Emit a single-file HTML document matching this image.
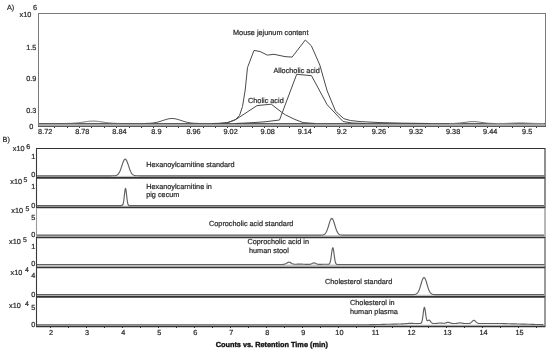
<!DOCTYPE html>
<html><head><meta charset="utf-8"><style>
html,body{margin:0;padding:0;background:#fff;width:550px;height:351px;overflow:hidden}
svg{display:block;font-family:"Liberation Sans",Arial,sans-serif}
text{text-rendering:geometricPrecision}
</style></head><body>
<svg width="550" height="351" viewBox="0 0 550 351">
<rect width="550" height="351" fill="#fff"/>
<text x="7.0" y="9.8" font-size="7.3" text-anchor="start" font-weight="normal" fill="#2a2a2a" stroke="#2a2a2a" stroke-width="0.22">A)</text>
<text x="19.5" y="17.0" font-size="7.3" text-anchor="start" font-weight="normal" fill="#2a2a2a" stroke="#2a2a2a" stroke-width="0.22">x10</text>
<text x="33.1" y="10.0" font-size="7.3" text-anchor="start" font-weight="normal" fill="#2a2a2a" stroke="#2a2a2a" stroke-width="0.22">6</text>
<text x="36.3" y="50.0" font-size="7.3" text-anchor="end" font-weight="normal" fill="#2a2a2a" stroke="#2a2a2a" stroke-width="0.22">1.5</text>
<text x="36.3" y="81.0" font-size="7.3" text-anchor="end" font-weight="normal" fill="#2a2a2a" stroke="#2a2a2a" stroke-width="0.22">0.9</text>
<text x="36.3" y="112.8" font-size="7.3" text-anchor="end" font-weight="normal" fill="#2a2a2a" stroke="#2a2a2a" stroke-width="0.22">0.3</text>
<text x="33.3" y="129.0" font-size="7.3" text-anchor="end" font-weight="normal" fill="#2a2a2a" stroke="#2a2a2a" stroke-width="0.22">0</text>
<text x="45.2" y="134.4" font-size="7.3" text-anchor="middle" font-weight="normal" fill="#2a2a2a" stroke="#2a2a2a" stroke-width="0.22">8.72</text>
<text x="82.3" y="134.4" font-size="7.3" text-anchor="middle" font-weight="normal" fill="#2a2a2a" stroke="#2a2a2a" stroke-width="0.22">8.78</text>
<text x="119.4" y="134.4" font-size="7.3" text-anchor="middle" font-weight="normal" fill="#2a2a2a" stroke="#2a2a2a" stroke-width="0.22">8.84</text>
<text x="156.4" y="134.4" font-size="7.3" text-anchor="middle" font-weight="normal" fill="#2a2a2a" stroke="#2a2a2a" stroke-width="0.22">8.9</text>
<text x="193.5" y="134.4" font-size="7.3" text-anchor="middle" font-weight="normal" fill="#2a2a2a" stroke="#2a2a2a" stroke-width="0.22">8.96</text>
<text x="230.6" y="134.4" font-size="7.3" text-anchor="middle" font-weight="normal" fill="#2a2a2a" stroke="#2a2a2a" stroke-width="0.22">9.02</text>
<text x="267.7" y="134.4" font-size="7.3" text-anchor="middle" font-weight="normal" fill="#2a2a2a" stroke="#2a2a2a" stroke-width="0.22">9.08</text>
<text x="304.8" y="134.4" font-size="7.3" text-anchor="middle" font-weight="normal" fill="#2a2a2a" stroke="#2a2a2a" stroke-width="0.22">9.14</text>
<text x="341.8" y="134.4" font-size="7.3" text-anchor="middle" font-weight="normal" fill="#2a2a2a" stroke="#2a2a2a" stroke-width="0.22">9.2</text>
<text x="378.9" y="134.4" font-size="7.3" text-anchor="middle" font-weight="normal" fill="#2a2a2a" stroke="#2a2a2a" stroke-width="0.22">9.26</text>
<text x="416.0" y="134.4" font-size="7.3" text-anchor="middle" font-weight="normal" fill="#2a2a2a" stroke="#2a2a2a" stroke-width="0.22">9.32</text>
<text x="453.1" y="134.4" font-size="7.3" text-anchor="middle" font-weight="normal" fill="#2a2a2a" stroke="#2a2a2a" stroke-width="0.22">9.38</text>
<text x="490.2" y="134.4" font-size="7.3" text-anchor="middle" font-weight="normal" fill="#2a2a2a" stroke="#2a2a2a" stroke-width="0.22">9.44</text>
<text x="527.2" y="134.4" font-size="7.3" text-anchor="middle" font-weight="normal" fill="#2a2a2a" stroke="#2a2a2a" stroke-width="0.22">9.5</text>
<line x1="54.5" y1="126.5" x2="54.5" y2="128.0" stroke="#333" stroke-width="1"/>
<line x1="67.5" y1="126.5" x2="67.5" y2="128.0" stroke="#333" stroke-width="1"/>
<line x1="79.5" y1="126.5" x2="79.5" y2="128.0" stroke="#333" stroke-width="1"/>
<line x1="91.5" y1="126.5" x2="91.5" y2="128.0" stroke="#333" stroke-width="1"/>
<line x1="104.5" y1="126.5" x2="104.5" y2="128.0" stroke="#333" stroke-width="1"/>
<line x1="116.5" y1="126.5" x2="116.5" y2="128.0" stroke="#333" stroke-width="1"/>
<line x1="129.5" y1="126.5" x2="129.5" y2="128.0" stroke="#333" stroke-width="1"/>
<line x1="141.5" y1="126.5" x2="141.5" y2="128.0" stroke="#333" stroke-width="1"/>
<line x1="153.5" y1="126.5" x2="153.5" y2="128.0" stroke="#333" stroke-width="1"/>
<line x1="166.5" y1="126.5" x2="166.5" y2="128.0" stroke="#333" stroke-width="1"/>
<line x1="178.5" y1="126.5" x2="178.5" y2="128.0" stroke="#333" stroke-width="1"/>
<line x1="190.5" y1="126.5" x2="190.5" y2="128.0" stroke="#333" stroke-width="1"/>
<line x1="203.5" y1="126.5" x2="203.5" y2="128.0" stroke="#333" stroke-width="1"/>
<line x1="215.5" y1="126.5" x2="215.5" y2="128.0" stroke="#333" stroke-width="1"/>
<line x1="227.5" y1="126.5" x2="227.5" y2="128.0" stroke="#333" stroke-width="1"/>
<line x1="240.5" y1="126.5" x2="240.5" y2="128.0" stroke="#333" stroke-width="1"/>
<line x1="252.5" y1="126.5" x2="252.5" y2="128.0" stroke="#333" stroke-width="1"/>
<line x1="264.5" y1="126.5" x2="264.5" y2="128.0" stroke="#333" stroke-width="1"/>
<line x1="277.5" y1="126.5" x2="277.5" y2="128.0" stroke="#333" stroke-width="1"/>
<line x1="289.5" y1="126.5" x2="289.5" y2="128.0" stroke="#333" stroke-width="1"/>
<line x1="302.5" y1="126.5" x2="302.5" y2="128.0" stroke="#333" stroke-width="1"/>
<line x1="314.5" y1="126.5" x2="314.5" y2="128.0" stroke="#333" stroke-width="1"/>
<line x1="326.5" y1="126.5" x2="326.5" y2="128.0" stroke="#333" stroke-width="1"/>
<line x1="339.5" y1="126.5" x2="339.5" y2="128.0" stroke="#333" stroke-width="1"/>
<line x1="351.5" y1="126.5" x2="351.5" y2="128.0" stroke="#333" stroke-width="1"/>
<line x1="363.5" y1="126.5" x2="363.5" y2="128.0" stroke="#333" stroke-width="1"/>
<line x1="376.5" y1="126.5" x2="376.5" y2="128.0" stroke="#333" stroke-width="1"/>
<line x1="388.5" y1="126.5" x2="388.5" y2="128.0" stroke="#333" stroke-width="1"/>
<line x1="400.5" y1="126.5" x2="400.5" y2="128.0" stroke="#333" stroke-width="1"/>
<line x1="413.5" y1="126.5" x2="413.5" y2="128.0" stroke="#333" stroke-width="1"/>
<line x1="425.5" y1="126.5" x2="425.5" y2="128.0" stroke="#333" stroke-width="1"/>
<line x1="438.5" y1="126.5" x2="438.5" y2="128.0" stroke="#333" stroke-width="1"/>
<line x1="450.5" y1="126.5" x2="450.5" y2="128.0" stroke="#333" stroke-width="1"/>
<line x1="462.5" y1="126.5" x2="462.5" y2="128.0" stroke="#333" stroke-width="1"/>
<line x1="475.5" y1="126.5" x2="475.5" y2="128.0" stroke="#333" stroke-width="1"/>
<line x1="487.5" y1="126.5" x2="487.5" y2="128.0" stroke="#333" stroke-width="1"/>
<line x1="499.5" y1="126.5" x2="499.5" y2="128.0" stroke="#333" stroke-width="1"/>
<line x1="512.5" y1="126.5" x2="512.5" y2="128.0" stroke="#333" stroke-width="1"/>
<line x1="524.5" y1="126.5" x2="524.5" y2="128.0" stroke="#333" stroke-width="1"/>
<line x1="536.5" y1="126.5" x2="536.5" y2="128.0" stroke="#333" stroke-width="1"/>
<rect x="38.5" y="123.5" width="507.0" height="2.6" fill="#a8a8a8"/>
<line x1="38.5" y1="123.5" x2="545.5" y2="123.5" stroke="#5c5c5c" stroke-width="1"/>
<polyline points="64.50,123.47 65.50,123.46 66.50,123.45 67.50,123.43 68.50,123.41 69.50,123.39 70.50,123.35 71.50,123.31 72.50,123.27 73.50,123.21 74.50,123.14 75.50,123.06 76.50,122.97 77.50,122.87 78.50,122.75 79.50,122.63 80.50,122.49 81.50,122.35 82.50,122.20 83.50,122.04 84.50,121.89 85.50,121.74 86.50,121.60 87.50,121.47 88.50,121.35 89.50,121.26 90.50,121.18 91.50,121.13 92.50,121.10 93.50,121.10 94.50,121.13 95.50,121.18 96.50,121.26 97.50,121.35 98.50,121.47 99.50,121.60 100.50,121.74 101.50,121.89 102.50,122.04 103.50,122.20 104.50,122.35 105.50,122.49 106.50,122.63 107.50,122.75 108.50,122.87 109.50,122.97 110.50,123.06 111.50,123.14 112.50,123.21 113.50,123.27 114.50,123.31 115.50,123.35 116.50,123.39 117.50,123.41 118.50,123.43 119.50,123.45 120.50,123.46 121.50,123.47" fill="none" stroke="#666" stroke-width="1" stroke-linejoin="round"/>
<polyline points="145.00,123.44 146.00,123.42 147.00,123.39 148.00,123.36 149.00,123.31 150.00,123.25 151.00,123.17 152.00,123.08 153.00,122.96 154.00,122.82 155.00,122.66 156.00,122.47 157.00,122.25 158.00,122.01 159.00,121.74 160.00,121.44 161.00,121.13 162.00,120.80 163.00,120.47 164.00,120.13 165.00,119.81 166.00,119.50 167.00,119.22 168.00,118.97 169.00,118.77 170.00,118.62 171.00,118.53 172.00,118.50 173.00,118.53 174.00,118.62 175.00,118.77 176.00,118.97 177.00,119.22 178.00,119.50 179.00,119.81 180.00,120.13 181.00,120.47 182.00,120.80 183.00,121.13 184.00,121.44 185.00,121.74 186.00,122.01 187.00,122.25 188.00,122.47 189.00,122.66 190.00,122.82 191.00,122.96 192.00,123.08 193.00,123.17 194.00,123.25 195.00,123.31 196.00,123.36 197.00,123.39 198.00,123.42 199.00,123.44" fill="none" stroke="#555" stroke-width="1" stroke-linejoin="round"/>
<polyline points="449.00,123.48 450.00,123.47 451.00,123.46 452.00,123.44 453.00,123.42 454.00,123.39 455.00,123.35 456.00,123.30 457.00,123.24 458.00,123.17 459.00,123.09 460.00,122.99 461.00,122.88 462.00,122.76 463.00,122.63 464.00,122.49 465.00,122.35 466.00,122.20 467.00,122.07 468.00,121.94 469.00,121.82 470.00,121.73 471.00,121.66 472.00,121.61 473.00,121.60 474.00,121.61 475.00,121.66 476.00,121.73 477.00,121.82 478.00,121.94 479.00,122.07 480.00,122.20 481.00,122.35 482.00,122.49 483.00,122.63 484.00,122.76 485.00,122.88 486.00,122.99 487.00,123.09 488.00,123.17 489.00,123.24 490.00,123.30 491.00,123.35 492.00,123.39 493.00,123.42 494.00,123.44 495.00,123.46 496.00,123.47 497.00,123.48" fill="none" stroke="#777" stroke-width="1" stroke-linejoin="round"/>
<polyline points="496.00,123.49 497.00,123.49 498.00,123.49 499.00,123.48 500.00,123.47 501.00,123.46 502.00,123.45 503.00,123.44 504.00,123.42 505.00,123.40 506.00,123.37 507.00,123.34 508.00,123.31 509.00,123.27 510.00,123.23 511.00,123.18 512.00,123.14 513.00,123.09 514.00,123.05 515.00,123.01 516.00,122.97 517.00,122.94 518.00,122.92 519.00,122.90 520.00,122.90 521.00,122.90 522.00,122.92 523.00,122.94 524.00,122.97 525.00,123.01 526.00,123.05 527.00,123.09 528.00,123.14 529.00,123.18 530.00,123.23 531.00,123.27 532.00,123.31 533.00,123.34 534.00,123.37 535.00,123.40 536.00,123.42 537.00,123.44 538.00,123.45 539.00,123.46 540.00,123.47 541.00,123.48 542.00,123.49 543.00,123.49 544.00,123.49" fill="none" stroke="#888" stroke-width="1" stroke-linejoin="round"/>
<polyline points="212.00,123.50 219.10,123.30 228.00,122.50 235.00,120.00 239.50,115.50 242.50,106.50 245.20,90.00 247.50,67.50 254.00,50.40 255.00,50.60 260.00,51.50 267.30,55.10 274.00,54.30 285.00,56.60 292.10,57.10 305.30,40.00 311.30,45.70 315.00,54.00 319.80,65.00 327.20,91.00 335.60,111.30 343.90,118.70 350.40,120.50 360.00,121.60 380.00,122.60 400.00,123.10 430.00,123.50" fill="none" stroke="#4a4a4a" stroke-width="1" stroke-linejoin="round"/>
<polyline points="220.00,123.50 226.60,123.00 236.00,119.40 257.00,105.60 271.30,104.20 281.30,112.00 285.60,115.00 295.00,119.50 303.10,122.60 315.00,123.50" fill="none" stroke="#4a4a4a" stroke-width="1" stroke-linejoin="round"/>
<polyline points="235.00,123.50 250.00,122.80 265.00,121.80 279.50,120.00 296.70,74.30 311.50,75.70 327.20,104.80 343.00,121.50 352.00,123.00 365.00,123.50" fill="none" stroke="#4a4a4a" stroke-width="1" stroke-linejoin="round"/>
<rect x="38.5" y="13.5" width="507.0" height="113.0" fill="none" stroke="#7a7a7a" stroke-width="1"/>
<line x1="38.0" y1="126.5" x2="546.0" y2="126.5" stroke="#5a5a5a" stroke-width="1"/>
<text x="233.0" y="35.0" font-size="7.3" text-anchor="start" font-weight="normal" fill="#2a2a2a" stroke="#2a2a2a" stroke-width="0.22">Mouse jejunum content</text>
<text x="273.5" y="72.7" font-size="7.3" text-anchor="start" font-weight="normal" fill="#2a2a2a" stroke="#2a2a2a" stroke-width="0.22">Allocholic acid</text>
<text x="248.0" y="102.8" font-size="7.3" text-anchor="start" font-weight="normal" fill="#2a2a2a" stroke="#2a2a2a" stroke-width="0.22">Cholic acid</text>
<text x="2.6" y="142.0" font-size="7.3" text-anchor="start" font-weight="normal" fill="#2a2a2a" stroke="#2a2a2a" stroke-width="0.22">B)</text>
<rect x="36.5" y="175.80" width="508.0" height="1.20" fill="#c4c4c4"/>
<polyline points="36.50,175.80 38.50,175.80 40.50,175.80 42.50,175.80 44.50,175.80 46.50,175.80 48.50,175.80 50.50,175.80 52.50,175.80 54.50,175.80 56.50,175.80 58.50,175.80 60.50,175.80 62.50,175.80 64.50,175.80 66.50,175.80 68.50,175.80 70.50,175.80 72.50,175.80 74.50,175.80 76.50,175.80 78.50,175.80 80.50,175.80 82.50,175.80 84.50,175.80 86.50,175.80 88.50,175.80 90.50,175.80 92.50,175.80 94.50,175.80 96.50,175.80 98.50,175.80 100.50,175.80 102.50,175.80 104.50,175.80 106.50,175.80 108.50,175.80 110.50,175.80 112.50,175.79 113.00,175.78 113.50,175.77 114.00,175.75 114.50,175.71 115.00,175.66 115.50,175.58 116.00,175.46 116.50,175.28 117.00,175.04 117.50,174.70 118.00,174.25 118.50,173.67 119.00,172.94 119.50,172.04 120.00,170.97 120.50,169.74 121.00,168.37 121.50,166.89 122.00,165.36 122.50,163.85 123.00,162.43 123.50,161.18 124.00,160.17 124.50,159.47 125.00,159.13 125.50,159.17 126.00,159.58 126.50,160.35 127.00,161.41 127.50,162.70 128.00,164.15 128.50,165.67 129.00,167.19 129.50,168.65 130.00,170.00 130.50,171.20 131.00,172.24 131.50,173.10 132.00,173.80 132.50,174.35 133.00,174.78 133.50,175.09 134.00,175.32 134.50,175.49 135.00,175.60 135.50,175.67 136.00,175.72 136.50,175.75 137.00,175.77 137.50,175.78 138.00,175.79 138.50,175.80 140.50,175.80 142.50,175.80 144.50,175.80 146.50,175.80 148.50,175.80 150.50,175.80 152.50,175.80 154.50,175.80 156.50,175.80 158.50,175.80 160.50,175.80 162.50,175.80 164.50,175.80 166.50,175.80 168.50,175.80 170.50,175.80 172.50,175.80 174.50,175.80 176.50,175.80 178.50,175.80 180.50,175.80 182.50,175.80 184.50,175.80 186.50,175.80 188.50,175.80 190.50,175.80 192.50,175.80 194.50,175.80 196.50,175.80 198.50,175.80 200.50,175.80 202.50,175.80 204.50,175.80 206.50,175.80 208.50,175.80 210.50,175.80 212.50,175.80 214.50,175.80 216.50,175.80 218.50,175.80 220.50,175.80 222.50,175.80 224.50,175.80 226.50,175.80 228.50,175.80 230.50,175.80 232.50,175.80 234.50,175.80 236.50,175.80 238.50,175.80 240.50,175.80 242.50,175.80 244.50,175.80 246.50,175.80 248.50,175.80 250.50,175.80 252.50,175.80 254.50,175.80 256.50,175.80 258.50,175.80 260.50,175.80 262.50,175.80 264.50,175.80 266.50,175.80 268.50,175.80 270.50,175.80 272.50,175.80 274.50,175.80 276.50,175.80 278.50,175.80 280.50,175.80 282.50,175.80 284.50,175.80 286.50,175.80 288.50,175.80 290.50,175.80 292.50,175.80 294.50,175.80 296.50,175.80 298.50,175.80 300.50,175.80 302.50,175.80 304.50,175.80 306.50,175.80 308.50,175.80 310.50,175.80 312.50,175.80 314.50,175.80 316.50,175.80 318.50,175.80 320.50,175.80 322.50,175.80 324.50,175.80 326.50,175.80 328.50,175.80 330.50,175.80 332.50,175.80 334.50,175.80 336.50,175.80 338.50,175.80 340.50,175.80 342.50,175.80 344.50,175.80 346.50,175.80 348.50,175.80 350.50,175.80 352.50,175.80 354.50,175.80 356.50,175.80 358.50,175.80 360.50,175.80 362.50,175.80 364.50,175.80 366.50,175.80 368.50,175.80 370.50,175.80 372.50,175.80 374.50,175.80 376.50,175.80 378.50,175.80 380.50,175.80 382.50,175.80 384.50,175.80 386.50,175.80 388.50,175.80 390.50,175.80 392.50,175.80 394.50,175.80 396.50,175.80 398.50,175.80 400.50,175.80 402.50,175.80 404.50,175.80 406.50,175.80 408.50,175.80 410.50,175.80 412.50,175.80 414.50,175.80 416.50,175.80 418.50,175.80 420.50,175.80 422.50,175.80 424.50,175.80 426.50,175.80 428.50,175.80 430.50,175.80 432.50,175.80 434.50,175.80 436.50,175.80 438.50,175.80 440.50,175.80 442.50,175.80 444.50,175.80 446.50,175.80 448.50,175.80 450.50,175.80 452.50,175.80 454.50,175.80 456.50,175.80 458.50,175.80 460.50,175.80 462.50,175.80 464.50,175.80 466.50,175.80 468.50,175.80 470.50,175.80 472.50,175.80 474.50,175.80 476.50,175.80 478.50,175.80 480.50,175.80 482.50,175.80 484.50,175.80 486.50,175.80 488.50,175.80 490.50,175.80 492.50,175.80 494.50,175.80 496.50,175.80 498.50,175.80 500.50,175.80 502.50,175.80 504.50,175.80 506.50,175.80 508.50,175.80 510.50,175.80 512.50,175.80 514.50,175.80 516.50,175.80 518.50,175.80 520.50,175.80 522.50,175.80 524.50,175.80 526.50,175.80 528.50,175.80 530.50,175.80 532.50,175.80 534.50,175.80 536.50,175.80 538.50,175.80 540.50,175.80 542.50,175.80 544.50,175.80" fill="none" stroke="#606060" stroke-width="1.15" stroke-linejoin="round"/>
<text x="12.8" y="151.0" font-size="7.3" text-anchor="start" font-weight="normal" fill="#2a2a2a" stroke="#2a2a2a" stroke-width="0.22">x10</text>
<text x="26.2" y="148.7" font-size="6.9" text-anchor="start" font-weight="normal" fill="#2a2a2a" stroke="#2a2a2a" stroke-width="0.22">6</text>
<text x="35.3" y="159.2" font-size="7.3" text-anchor="end" font-weight="normal" fill="#2a2a2a" stroke="#2a2a2a" stroke-width="0.22">1</text>
<text x="35.3" y="177.4" font-size="7.3" text-anchor="end" font-weight="normal" fill="#2a2a2a" stroke="#2a2a2a" stroke-width="0.22">0</text>
<text x="146.2" y="166.8" font-size="7.3" text-anchor="start" font-weight="normal" fill="#2a2a2a" stroke="#2a2a2a" stroke-width="0.22">Hexanoylcarnitine standard</text>
<rect x="36.5" y="205.60" width="508.0" height="1.20" fill="#c4c4c4"/>
<polyline points="36.50,205.60 38.50,205.60 40.50,205.60 42.50,205.60 44.50,205.60 46.50,205.60 48.50,205.60 50.50,205.60 52.50,205.60 54.50,205.60 56.50,205.60 58.50,205.60 60.50,205.60 62.50,205.60 64.50,205.60 66.50,205.60 68.50,205.60 70.50,205.60 72.50,205.60 74.50,205.60 76.50,205.60 78.50,205.60 80.50,205.60 82.50,205.60 84.50,205.60 86.50,205.60 88.50,205.60 90.50,205.60 92.50,205.60 94.50,205.60 96.50,205.60 98.50,205.60 100.50,205.60 102.50,205.60 104.50,205.60 106.50,205.60 108.50,205.60 110.50,205.60 112.50,205.60 114.50,205.60 116.50,205.60 118.50,205.60 120.50,205.60 122.50,205.18 123.00,204.29 123.50,202.29 124.00,198.77 124.50,194.16 125.00,190.00 125.50,188.30 126.00,190.00 126.50,194.16 127.00,198.77 127.50,202.29 128.00,204.29 128.50,205.18 129.00,205.49 129.50,205.58 130.00,205.60 132.00,205.60 134.00,205.60 136.00,205.60 138.00,205.60 140.00,205.60 142.00,205.60 144.00,205.60 146.00,205.60 148.00,205.60 150.00,205.60 152.00,205.60 154.00,205.60 156.00,205.60 158.00,205.60 160.00,205.60 162.00,205.60 164.00,205.60 166.00,205.60 168.00,205.60 170.00,205.60 172.00,205.60 174.00,205.60 176.00,205.60 178.00,205.60 180.00,205.60 182.00,205.60 184.00,205.60 186.00,205.60 188.00,205.60 190.00,205.60 192.00,205.60 194.00,205.60 196.00,205.60 198.00,205.60 200.00,205.60 202.00,205.60 204.00,205.60 206.00,205.60 208.00,205.60 210.00,205.60 212.00,205.60 214.00,205.60 216.00,205.60 218.00,205.60 220.00,205.60 222.00,205.60 224.00,205.60 226.00,205.60 228.00,205.60 230.00,205.60 232.00,205.60 234.00,205.60 236.00,205.60 238.00,205.60 240.00,205.60 242.00,205.60 244.00,205.60 246.00,205.60 248.00,205.60 250.00,205.60 252.00,205.60 254.00,205.60 256.00,205.60 258.00,205.60 260.00,205.60 262.00,205.60 264.00,205.60 266.00,205.60 268.00,205.60 270.00,205.60 272.00,205.60 274.00,205.60 276.00,205.60 278.00,205.60 280.00,205.60 282.00,205.60 284.00,205.60 286.00,205.60 288.00,205.60 290.00,205.60 292.00,205.60 294.00,205.60 296.00,205.60 298.00,205.60 300.00,205.60 302.00,205.60 304.00,205.60 306.00,205.60 308.00,205.60 310.00,205.60 312.00,205.60 314.00,205.60 316.00,205.60 318.00,205.60 320.00,205.60 322.00,205.60 324.00,205.60 326.00,205.60 328.00,205.60 330.00,205.60 332.00,205.60 334.00,205.60 336.00,205.60 338.00,205.60 340.00,205.60 342.00,205.60 344.00,205.60 346.00,205.60 348.00,205.60 350.00,205.60 352.00,205.60 354.00,205.60 356.00,205.60 358.00,205.60 360.00,205.60 362.00,205.60 364.00,205.60 366.00,205.60 368.00,205.60 370.00,205.60 372.00,205.60 374.00,205.60 376.00,205.60 378.00,205.60 380.00,205.60 382.00,205.60 384.00,205.60 386.00,205.60 388.00,205.60 390.00,205.60 392.00,205.60 394.00,205.60 396.00,205.60 398.00,205.60 400.00,205.60 402.00,205.60 404.00,205.60 406.00,205.60 408.00,205.60 410.00,205.60 412.00,205.60 414.00,205.60 416.00,205.60 418.00,205.60 420.00,205.60 422.00,205.60 424.00,205.60 426.00,205.60 428.00,205.60 430.00,205.60 432.00,205.60 434.00,205.60 436.00,205.60 438.00,205.60 440.00,205.60 442.00,205.60 444.00,205.60 446.00,205.60 448.00,205.60 450.00,205.60 452.00,205.60 454.00,205.60 456.00,205.60 458.00,205.60 460.00,205.60 462.00,205.60 464.00,205.60 466.00,205.60 468.00,205.60 470.00,205.60 472.00,205.60 474.00,205.60 476.00,205.60 478.00,205.60 480.00,205.60 482.00,205.60 484.00,205.60 486.00,205.60 488.00,205.60 490.00,205.60 492.00,205.60 494.00,205.60 496.00,205.60 498.00,205.60 500.00,205.60 502.00,205.60 504.00,205.60 506.00,205.60 508.00,205.60 510.00,205.60 512.00,205.60 514.00,205.60 516.00,205.60 518.00,205.60 520.00,205.60 522.00,205.60 524.00,205.60 526.00,205.60 528.00,205.60 530.00,205.60 532.00,205.60 534.00,205.60 536.00,205.60 538.00,205.60 540.00,205.60 542.00,205.60 544.00,205.60" fill="none" stroke="#606060" stroke-width="1.15" stroke-linejoin="round"/>
<text x="10.3" y="183.6" font-size="7.3" text-anchor="start" font-weight="normal" fill="#2a2a2a" stroke="#2a2a2a" stroke-width="0.22">x10</text>
<text x="23.6" y="181.7" font-size="6.9" text-anchor="start" font-weight="normal" fill="#2a2a2a" stroke="#2a2a2a" stroke-width="0.22">5</text>
<text x="35.3" y="189.4" font-size="7.3" text-anchor="end" font-weight="normal" fill="#2a2a2a" stroke="#2a2a2a" stroke-width="0.22">1</text>
<text x="35.3" y="207.6" font-size="7.3" text-anchor="end" font-weight="normal" fill="#2a2a2a" stroke="#2a2a2a" stroke-width="0.22">0</text>
<text x="146.2" y="188.6" font-size="7.3" text-anchor="start" font-weight="normal" fill="#2a2a2a" stroke="#2a2a2a" stroke-width="0.22">Hexanoylcarnitine in</text>
<text x="146.2" y="197.4" font-size="7.3" text-anchor="start" font-weight="normal" fill="#2a2a2a" stroke="#2a2a2a" stroke-width="0.22">pig cecum</text>
<rect x="36.5" y="235.10" width="508.0" height="1.75" fill="#c4c4c4"/>
<polyline points="36.50,235.10 38.50,235.10 40.50,235.10 42.50,235.10 44.50,235.10 46.50,235.10 48.50,235.10 50.50,235.10 52.50,235.10 54.50,235.10 56.50,235.10 58.50,235.10 60.50,235.10 62.50,235.10 64.50,235.10 66.50,235.10 68.50,235.10 70.50,235.10 72.50,235.10 74.50,235.10 76.50,235.10 78.50,235.10 80.50,235.10 82.50,235.10 84.50,235.10 86.50,235.10 88.50,235.10 90.50,235.10 92.50,235.10 94.50,235.10 96.50,235.10 98.50,235.10 100.50,235.10 102.50,235.10 104.50,235.10 106.50,235.10 108.50,235.10 110.50,235.10 112.50,235.10 114.50,235.10 116.50,235.10 118.50,235.10 120.50,235.10 122.50,235.10 124.50,235.10 126.50,235.10 128.50,235.10 130.50,235.10 132.50,235.10 134.50,235.10 136.50,235.10 138.50,235.10 140.50,235.10 142.50,235.10 144.50,235.10 146.50,235.10 148.50,235.10 150.50,235.10 152.50,235.10 154.50,235.10 156.50,235.10 158.50,235.10 160.50,235.10 162.50,235.10 164.50,235.10 166.50,235.10 168.50,235.10 170.50,235.10 172.50,235.10 174.50,235.10 176.50,235.10 178.50,235.10 180.50,235.10 182.50,235.10 184.50,235.10 186.50,235.10 188.50,235.10 190.50,235.10 192.50,235.10 194.50,235.10 196.50,235.10 198.50,235.10 200.50,235.10 202.50,235.10 204.50,235.10 206.50,235.10 208.50,235.10 210.50,235.10 212.50,235.10 214.50,235.10 216.50,235.10 218.50,235.10 220.50,235.10 222.50,235.10 224.50,235.10 226.50,235.10 228.50,235.10 230.50,235.10 232.50,235.10 234.50,235.10 236.50,235.10 238.50,235.10 240.50,235.10 242.50,235.10 244.50,235.10 246.50,235.10 248.50,235.10 250.50,235.10 252.50,235.10 254.50,235.10 256.50,235.10 258.50,235.10 260.50,235.10 262.50,235.10 264.50,235.10 266.50,235.10 268.50,235.10 270.50,235.10 272.50,235.10 274.50,235.10 276.50,235.10 278.50,235.10 280.50,235.10 282.50,235.10 284.50,235.10 286.50,235.10 288.50,235.10 290.50,235.10 292.50,235.10 294.50,235.10 296.50,235.10 298.50,235.10 300.50,235.10 302.50,235.10 304.50,235.10 306.50,235.10 308.50,235.10 310.50,235.10 312.50,235.10 314.50,235.10 316.50,235.10 318.50,235.10 320.50,235.09 321.00,235.07 321.50,235.05 322.00,235.02 322.50,234.96 323.00,234.87 323.50,234.74 324.00,234.53 324.50,234.24 325.00,233.82 325.50,233.26 326.00,232.52 326.50,231.59 327.00,230.46 327.50,229.12 328.00,227.61 328.50,225.98 329.00,224.30 329.50,222.65 330.00,221.15 330.50,219.90 331.00,218.98 331.50,218.48 332.00,218.44 332.50,218.85 333.00,219.68 333.50,220.88 334.00,222.34 334.50,223.96 335.00,225.65 335.50,227.29 336.00,228.83 336.50,230.21 337.00,231.38 337.50,232.35 338.00,233.13 338.50,233.72 339.00,234.16 339.50,234.48 340.00,234.70 340.50,234.85 341.00,234.95 341.50,235.01 342.00,235.05 342.50,235.07 343.00,235.08 343.50,235.09 344.00,235.10 346.00,235.10 348.00,235.10 350.00,235.10 352.00,235.10 354.00,235.10 356.00,235.10 358.00,235.10 360.00,235.10 362.00,235.10 364.00,235.10 366.00,235.10 368.00,235.10 370.00,235.10 372.00,235.10 374.00,235.10 376.00,235.10 378.00,235.10 380.00,235.10 382.00,235.10 384.00,235.10 386.00,235.10 388.00,235.10 390.00,235.10 392.00,235.10 394.00,235.10 396.00,235.10 398.00,235.10 400.00,235.10 402.00,235.10 404.00,235.10 406.00,235.10 408.00,235.10 410.00,235.10 412.00,235.10 414.00,235.10 416.00,235.10 418.00,235.10 420.00,235.10 422.00,235.10 424.00,235.10 426.00,235.10 428.00,235.10 430.00,235.10 432.00,235.10 434.00,235.10 436.00,235.10 438.00,235.10 440.00,235.10 442.00,235.10 444.00,235.10 446.00,235.10 448.00,235.10 450.00,235.10 452.00,235.10 454.00,235.10 456.00,235.10 458.00,235.10 460.00,235.10 462.00,235.10 464.00,235.10 466.00,235.10 468.00,235.10 470.00,235.10 472.00,235.10 474.00,235.10 476.00,235.10 478.00,235.10 480.00,235.10 482.00,235.10 484.00,235.10 486.00,235.10 488.00,235.10 490.00,235.10 492.00,235.10 494.00,235.10 496.00,235.10 498.00,235.10 500.00,235.10 502.00,235.10 504.00,235.10 506.00,235.10 508.00,235.10 510.00,235.10 512.00,235.10 514.00,235.10 516.00,235.10 518.00,235.10 520.00,235.10 522.00,235.10 524.00,235.10 526.00,235.10 528.00,235.10 530.00,235.10 532.00,235.10 534.00,235.10 536.00,235.10 538.00,235.10 540.00,235.10 542.00,235.10 544.00,235.10" fill="none" stroke="#606060" stroke-width="1.15" stroke-linejoin="round"/>
<text x="11.3" y="212.7" font-size="7.3" text-anchor="start" font-weight="normal" fill="#2a2a2a" stroke="#2a2a2a" stroke-width="0.22">x10</text>
<text x="25.6" y="210.8" font-size="6.9" text-anchor="start" font-weight="normal" fill="#2a2a2a" stroke="#2a2a2a" stroke-width="0.22">5</text>
<text x="35.3" y="219.5" font-size="7.3" text-anchor="end" font-weight="normal" fill="#2a2a2a" stroke="#2a2a2a" stroke-width="0.22">5</text>
<text x="35.3" y="237.1" font-size="7.3" text-anchor="end" font-weight="normal" fill="#2a2a2a" stroke="#2a2a2a" stroke-width="0.22">0</text>
<text x="209.0" y="226.0" font-size="7.3" text-anchor="start" font-weight="normal" fill="#2a2a2a" stroke="#2a2a2a" stroke-width="0.22">Coprocholic acid standard</text>
<rect x="36.5" y="264.50" width="508.0" height="2.30" fill="#c4c4c4"/>
<polyline points="36.50,264.50 38.50,264.50 40.50,264.50 42.50,264.50 44.50,264.50 46.50,264.50 48.50,264.50 50.50,264.50 52.50,264.50 54.50,264.50 56.50,264.50 58.50,264.50 60.50,264.50 62.50,264.50 64.50,264.50 66.50,264.50 68.50,264.50 70.50,264.50 72.50,264.50 74.50,264.50 76.50,264.50 78.50,264.50 80.50,264.50 82.50,264.50 84.50,264.50 86.50,264.50 88.50,264.50 90.50,264.50 92.50,264.50 94.50,264.50 96.50,264.50 98.50,264.50 100.50,264.50 102.50,264.50 104.50,264.50 106.50,264.50 108.50,264.50 110.50,264.50 112.50,264.50 114.50,264.50 116.50,264.50 118.50,264.50 120.50,264.50 122.50,264.50 124.50,264.50 126.50,264.50 128.50,264.50 130.50,264.50 132.50,264.50 134.50,264.50 136.50,264.50 138.50,264.50 140.50,264.50 142.50,264.50 144.50,264.50 146.50,264.50 148.50,264.50 150.50,264.50 152.50,264.50 154.50,264.50 156.50,264.50 158.50,264.50 160.50,264.50 162.50,264.50 164.50,264.50 166.50,264.50 168.50,264.50 170.50,264.50 172.50,264.50 174.50,264.50 176.50,264.50 178.50,264.50 180.50,264.50 182.50,264.50 184.50,264.50 186.50,264.50 188.50,264.50 190.50,264.50 192.50,264.50 194.50,264.50 196.50,264.50 198.50,264.50 200.50,264.50 202.50,264.50 204.50,264.50 206.50,264.50 208.50,264.50 210.50,264.50 212.50,264.50 214.50,264.50 216.50,264.50 218.50,264.50 220.50,264.50 222.50,264.50 224.50,264.50 226.50,264.50 228.50,264.50 230.50,264.50 232.50,264.50 234.50,264.50 236.50,264.50 238.50,264.50 240.50,264.50 242.50,264.50 244.50,264.50 246.50,264.50 248.50,264.50 250.50,264.50 252.50,264.50 254.50,264.50 256.50,264.50 258.50,264.50 260.50,264.50 262.50,264.50 264.50,264.50 266.50,264.50 268.50,264.50 270.50,264.50 272.50,264.50 274.50,264.50 276.50,264.50 278.50,264.50 280.50,264.50 281.00,264.49 281.50,264.49 282.00,264.48 282.50,264.46 283.00,264.42 283.50,264.37 284.00,264.28 284.50,264.16 285.00,263.99 285.50,263.78 286.00,263.52 286.50,263.22 287.00,262.92 287.50,262.64 288.00,262.40 288.50,262.25 289.00,262.19 289.50,262.24 290.00,262.39 290.50,262.62 291.00,262.89 291.50,263.18 292.00,263.46 292.50,263.71 293.00,263.91 293.50,264.05 294.00,264.15 294.50,264.21 295.00,264.24 295.50,264.25 296.00,264.23 296.50,264.22 297.00,264.19 297.50,264.17 298.00,264.15 298.50,264.13 299.00,264.11 299.50,264.10 300.00,264.10 300.50,264.10 301.00,264.11 301.50,264.13 302.00,264.15 302.50,264.17 303.00,264.20 303.50,264.23 304.00,264.26 304.50,264.29 305.00,264.32 305.50,264.34 306.00,264.37 306.50,264.39 307.00,264.41 307.50,264.42 308.00,264.43 308.50,264.42 309.00,264.40 309.50,264.35 310.00,264.27 310.50,264.14 311.00,263.97 311.50,263.76 312.00,263.53 312.50,263.29 313.00,263.09 313.50,262.95 314.00,262.90 314.50,262.95 315.00,263.09 315.50,263.29 316.00,263.53 316.50,263.76 317.00,263.97 317.50,264.14 318.00,264.26 318.50,264.34 319.00,264.39 319.50,264.41 320.00,264.41 320.50,264.39 321.00,264.37 321.50,264.35 322.00,264.32 322.50,264.29 323.00,264.26 323.50,264.24 324.00,264.22 324.50,264.20 325.00,264.20 325.50,264.20 326.00,264.22 326.50,264.24 327.00,264.26 327.50,264.28 328.00,264.30 328.50,264.28 329.00,264.14 329.50,263.73 330.00,262.76 330.50,260.91 331.00,257.98 331.50,254.22 332.00,250.50 332.50,248.03 333.00,247.79 333.50,249.88 334.00,253.46 334.50,257.31 335.00,260.46 335.50,262.54 336.00,263.68 336.50,264.21 337.00,264.41 337.50,264.48 338.00,264.49 338.50,264.50 340.50,264.50 342.50,264.50 344.50,264.50 346.50,264.50 348.50,264.50 350.50,264.50 352.50,264.50 354.50,264.50 356.50,264.50 358.50,264.50 360.50,264.50 362.50,264.50 364.50,264.50 366.50,264.50 368.50,264.50 370.50,264.50 372.50,264.50 374.50,264.50 376.50,264.50 378.50,264.50 380.50,264.50 382.50,264.50 384.50,264.50 386.50,264.50 388.50,264.50 390.50,264.50 392.50,264.50 394.50,264.50 396.50,264.50 398.50,264.50 400.50,264.50 402.50,264.50 404.50,264.50 406.50,264.50 408.50,264.50 410.50,264.50 412.50,264.50 414.50,264.50 416.50,264.50 418.50,264.50 420.50,264.50 422.50,264.50 424.50,264.50 426.50,264.50 428.50,264.50 430.50,264.50 432.50,264.50 434.50,264.50 436.50,264.50 438.50,264.50 440.50,264.50 442.50,264.50 444.50,264.50 446.50,264.50 448.50,264.50 450.50,264.50 452.50,264.50 454.50,264.50 456.50,264.50 458.50,264.50 460.50,264.50 462.50,264.50 464.50,264.50 466.50,264.50 468.50,264.50 470.50,264.50 472.50,264.50 474.50,264.50 476.50,264.50 478.50,264.50 480.50,264.50 482.50,264.50 484.50,264.50 486.50,264.50 488.50,264.50 490.50,264.50 492.50,264.50 494.50,264.50 496.50,264.50 498.50,264.50 500.50,264.50 502.50,264.50 504.50,264.50 506.50,264.50 508.50,264.50 510.50,264.50 512.50,264.50 514.50,264.50 516.50,264.50 518.50,264.50 520.50,264.50 522.50,264.50 524.50,264.50 526.50,264.50 528.50,264.50 530.50,264.50 532.50,264.50 534.50,264.50 536.50,264.50 538.50,264.50 540.50,264.50 542.50,264.50 544.50,264.50" fill="none" stroke="#606060" stroke-width="1.15" stroke-linejoin="round"/>
<text x="9.0" y="244.4" font-size="7.3" text-anchor="start" font-weight="normal" fill="#2a2a2a" stroke="#2a2a2a" stroke-width="0.22">x10</text>
<text x="23.0" y="241.8" font-size="6.9" text-anchor="start" font-weight="normal" fill="#2a2a2a" stroke="#2a2a2a" stroke-width="0.22">5</text>
<text x="35.3" y="249.2" font-size="7.3" text-anchor="end" font-weight="normal" fill="#2a2a2a" stroke="#2a2a2a" stroke-width="0.22">1</text>
<text x="35.3" y="266.2" font-size="7.3" text-anchor="end" font-weight="normal" fill="#2a2a2a" stroke="#2a2a2a" stroke-width="0.22">0</text>
<text x="247.4" y="244.2" font-size="7.3" text-anchor="start" font-weight="normal" fill="#2a2a2a" stroke="#2a2a2a" stroke-width="0.22">Coprocholic acid in</text>
<text x="249.0" y="253.0" font-size="7.3" text-anchor="start" font-weight="normal" fill="#2a2a2a" stroke="#2a2a2a" stroke-width="0.22">human stool</text>
<rect x="36.5" y="294.60" width="508.0" height="1.35" fill="#c4c4c4"/>
<polyline points="36.50,294.60 38.50,294.60 40.50,294.60 42.50,294.60 44.50,294.60 46.50,294.60 48.50,294.60 50.50,294.60 52.50,294.60 54.50,294.60 56.50,294.60 58.50,294.60 60.50,294.60 62.50,294.60 64.50,294.60 66.50,294.60 68.50,294.60 70.50,294.60 72.50,294.60 74.50,294.60 76.50,294.60 78.50,294.60 80.50,294.60 82.50,294.60 84.50,294.60 86.50,294.60 88.50,294.60 90.50,294.60 92.50,294.60 94.50,294.60 96.50,294.60 98.50,294.60 100.50,294.60 102.50,294.60 104.50,294.60 106.50,294.60 108.50,294.60 110.50,294.60 112.50,294.60 114.50,294.60 116.50,294.60 118.50,294.60 120.50,294.60 122.50,294.60 124.50,294.60 126.50,294.60 128.50,294.60 130.50,294.60 132.50,294.60 134.50,294.60 136.50,294.60 138.50,294.60 140.50,294.60 142.50,294.60 144.50,294.60 146.50,294.60 148.50,294.60 150.50,294.60 152.50,294.60 154.50,294.60 156.50,294.60 158.50,294.60 160.50,294.60 162.50,294.60 164.50,294.60 166.50,294.60 168.50,294.60 170.50,294.60 172.50,294.60 174.50,294.60 176.50,294.60 178.50,294.60 180.50,294.60 182.50,294.60 184.50,294.60 186.50,294.60 188.50,294.60 190.50,294.60 192.50,294.60 194.50,294.60 196.50,294.60 198.50,294.60 200.50,294.60 202.50,294.60 204.50,294.60 206.50,294.60 208.50,294.60 210.50,294.60 212.50,294.60 214.50,294.60 216.50,294.60 218.50,294.60 220.50,294.60 222.50,294.60 224.50,294.60 226.50,294.60 228.50,294.60 230.50,294.60 232.50,294.60 234.50,294.60 236.50,294.60 238.50,294.60 240.50,294.60 242.50,294.60 244.50,294.60 246.50,294.60 248.50,294.60 250.50,294.60 252.50,294.60 254.50,294.60 256.50,294.60 258.50,294.60 260.50,294.60 262.50,294.60 264.50,294.60 266.50,294.60 268.50,294.60 270.50,294.60 272.50,294.60 274.50,294.60 276.50,294.60 278.50,294.60 280.50,294.60 282.50,294.60 284.50,294.60 286.50,294.60 288.50,294.60 290.50,294.60 292.50,294.60 294.50,294.60 296.50,294.60 298.50,294.60 300.50,294.60 302.50,294.60 304.50,294.60 306.50,294.60 308.50,294.60 310.50,294.60 312.50,294.60 314.50,294.60 316.50,294.60 318.50,294.60 320.50,294.60 322.50,294.60 324.50,294.60 326.50,294.60 328.50,294.60 330.50,294.60 332.50,294.60 334.50,294.60 336.50,294.60 338.50,294.60 340.50,294.60 342.50,294.60 344.50,294.60 346.50,294.60 348.50,294.60 350.50,294.60 352.50,294.60 354.50,294.60 356.50,294.60 358.50,294.60 360.50,294.60 362.50,294.60 364.50,294.60 366.50,294.60 368.50,294.60 370.50,294.60 372.50,294.60 374.50,294.60 376.50,294.60 378.50,294.60 380.50,294.60 382.50,294.60 384.50,294.60 386.50,294.60 388.50,294.60 390.50,294.60 392.50,294.60 394.50,294.60 396.50,294.60 398.50,294.60 400.50,294.60 402.50,294.60 404.50,294.60 406.50,294.60 408.50,294.60 410.50,294.60 412.50,294.59 413.00,294.58 413.50,294.56 414.00,294.53 414.50,294.49 415.00,294.41 415.50,294.29 416.00,294.11 416.50,293.85 417.00,293.48 417.50,292.96 418.00,292.29 418.50,291.41 419.00,290.34 419.50,289.05 420.00,287.57 420.50,285.94 421.00,284.23 421.50,282.52 422.00,280.91 422.50,279.51 423.00,278.42 423.50,277.74 424.00,277.50 424.50,277.74 425.00,278.42 425.50,279.51 426.00,280.91 426.50,282.52 427.00,284.23 427.50,285.94 428.00,287.57 428.50,289.05 429.00,290.34 429.50,291.41 430.00,292.29 430.50,292.96 431.00,293.48 431.50,293.85 432.00,294.11 432.50,294.29 433.00,294.41 433.50,294.49 434.00,294.53 434.50,294.56 435.00,294.58 435.50,294.59 436.00,294.59 438.00,294.60 440.00,294.60 442.00,294.60 444.00,294.60 446.00,294.60 448.00,294.60 450.00,294.60 452.00,294.60 454.00,294.60 456.00,294.60 458.00,294.60 460.00,294.60 462.00,294.60 464.00,294.60 466.00,294.60 468.00,294.60 470.00,294.60 472.00,294.60 474.00,294.60 476.00,294.60 478.00,294.60 480.00,294.60 482.00,294.60 484.00,294.60 486.00,294.60 488.00,294.60 490.00,294.60 492.00,294.60 494.00,294.60 496.00,294.60 498.00,294.60 500.00,294.60 502.00,294.60 504.00,294.60 506.00,294.60 508.00,294.60 510.00,294.60 512.00,294.60 514.00,294.60 516.00,294.60 518.00,294.60 520.00,294.60 522.00,294.60 524.00,294.60 526.00,294.60 528.00,294.60 530.00,294.60 532.00,294.60 534.00,294.60 536.00,294.60 538.00,294.60 540.00,294.60 542.00,294.60 544.00,294.60" fill="none" stroke="#606060" stroke-width="1.15" stroke-linejoin="round"/>
<text x="10.5" y="275.3" font-size="7.3" text-anchor="start" font-weight="normal" fill="#2a2a2a" stroke="#2a2a2a" stroke-width="0.22">x10</text>
<text x="25.0" y="272.3" font-size="6.9" text-anchor="start" font-weight="normal" fill="#2a2a2a" stroke="#2a2a2a" stroke-width="0.22">4</text>
<text x="35.3" y="277.8" font-size="7.3" text-anchor="end" font-weight="normal" fill="#2a2a2a" stroke="#2a2a2a" stroke-width="0.22">4</text>
<text x="35.3" y="296.7" font-size="7.3" text-anchor="end" font-weight="normal" fill="#2a2a2a" stroke="#2a2a2a" stroke-width="0.22">0</text>
<text x="325.0" y="284.0" font-size="7.3" text-anchor="start" font-weight="normal" fill="#2a2a2a" stroke="#2a2a2a" stroke-width="0.22">Cholesterol standard</text>
<rect x="36.5" y="324.70" width="508.0" height="0.95" fill="#c4c4c4"/>
<polyline points="36.50,324.70 38.50,324.70 40.50,324.70 42.50,324.70 44.50,324.70 46.50,324.70 48.50,324.70 50.50,324.70 52.50,324.70 54.50,324.70 56.50,324.70 58.50,324.70 60.50,324.70 62.50,324.70 64.50,324.70 66.50,324.70 68.50,324.70 70.50,324.70 72.50,324.70 74.50,324.70 76.50,324.70 78.50,324.70 80.50,324.70 82.50,324.70 84.50,324.70 86.50,324.70 88.50,324.70 90.50,324.70 92.50,324.70 94.50,324.70 96.50,324.70 98.50,324.70 100.50,324.70 102.50,324.70 104.50,324.70 106.50,324.70 108.50,324.70 110.50,324.70 112.50,324.70 114.50,324.70 116.50,324.70 118.50,324.70 120.50,324.70 122.50,324.70 124.50,324.70 126.50,324.70 128.50,324.70 130.50,324.70 132.50,324.70 134.50,324.70 136.50,324.70 138.50,324.70 140.50,324.70 142.50,324.70 144.50,324.70 146.50,324.70 148.50,324.70 150.50,324.70 152.50,324.70 154.50,324.70 156.50,324.70 158.50,324.70 160.50,324.70 162.50,324.70 164.50,324.70 166.50,324.70 168.50,324.70 170.50,324.70 172.50,324.70 174.50,324.70 176.50,324.70 178.50,324.70 180.50,324.70 182.50,324.70 184.50,324.70 186.50,324.70 188.50,324.70 190.50,324.70 192.50,324.70 194.50,324.70 196.50,324.70 198.50,324.70 200.50,324.70 202.50,324.70 204.50,324.70 206.50,324.70 208.50,324.70 210.50,324.70 212.50,324.70 214.50,324.70 216.50,324.70 218.50,324.70 220.50,324.70 222.50,324.70 224.50,324.70 226.50,324.70 228.50,324.70 230.50,324.70 232.50,324.70 234.50,324.70 236.50,324.70 238.50,324.70 240.50,324.70 242.50,324.70 244.50,324.70 246.50,324.70 248.50,324.70 250.50,324.70 252.50,324.70 254.50,324.70 256.50,324.70 258.50,324.70 260.50,324.70 262.50,324.70 264.50,324.70 266.50,324.70 268.50,324.70 270.50,324.70 272.50,324.70 274.50,324.70 276.50,324.70 278.50,324.70 280.50,324.70 282.50,324.70 284.50,324.70 286.50,324.70 288.50,324.70 290.50,324.70 292.50,324.70 294.50,324.70 296.50,324.70 298.50,324.70 300.50,324.70 302.50,324.70 304.50,324.70 306.50,324.70 308.50,324.70 310.50,324.70 312.50,324.70 314.50,324.70 316.50,324.70 318.50,324.70 320.50,324.70 322.50,324.70 324.50,324.70 326.50,324.70 328.50,324.70 330.50,324.70 332.50,324.70 334.50,324.70 336.50,324.70 338.50,324.70 340.50,324.70 342.50,324.70 344.50,324.70 346.50,324.70 348.50,324.70 350.50,324.70 352.50,324.70 354.50,324.70 356.50,324.70 358.50,324.70 360.50,324.70 362.50,324.70 364.50,324.70 366.50,324.70 368.50,324.70 370.50,324.69 372.50,324.64 374.50,324.59 376.50,324.54 378.50,324.50 380.50,324.45 382.50,324.40 384.50,324.35 386.50,324.30 388.50,324.26 390.50,324.21 392.50,324.16 394.50,324.11 396.50,324.06 398.50,324.02 399.00,324.00 399.50,323.99 400.00,323.98 400.50,323.97 401.00,323.95 401.50,323.94 402.00,323.92 402.50,323.90 403.00,323.88 403.50,323.86 404.00,323.83 404.50,323.80 405.00,323.76 405.50,323.72 406.00,323.67 406.50,323.62 407.00,323.57 407.50,323.52 408.00,323.47 408.50,323.42 409.00,323.39 409.50,323.36 410.00,323.34 410.50,323.33 411.00,323.34 411.50,323.35 412.00,323.37 412.50,323.40 413.00,323.43 413.50,323.45 414.00,323.48 414.50,323.50 415.00,323.52 415.50,323.53 416.00,323.54 416.50,323.55 417.00,323.55 417.50,323.54 418.00,323.54 418.50,323.53 419.00,323.52 419.50,323.51 420.00,323.48 420.50,323.42 421.00,323.21 421.50,322.63 422.00,321.31 422.50,318.87 423.00,315.30 423.50,311.27 424.00,308.16 424.50,307.32 425.00,309.11 425.50,312.63 426.00,316.38 426.50,319.15 427.00,320.55 427.50,320.86 428.00,320.60 428.50,320.24 429.00,320.09 429.50,320.28 430.00,320.78 430.50,321.44 431.00,322.10 431.50,322.65 432.00,323.04 432.50,323.28 433.00,323.40 433.50,323.46 434.00,323.48 434.50,323.48 435.00,323.48 435.50,323.46 436.00,323.43 436.50,323.39 437.00,323.34 437.50,323.27 438.00,323.20 438.50,323.12 439.00,323.06 439.50,323.02 440.00,323.00 440.50,323.01 441.00,323.06 441.50,323.12 442.00,323.18 442.50,323.25 443.00,323.29 443.50,323.30 444.00,323.28 444.50,323.22 445.00,323.12 445.50,322.98 446.00,322.83 446.50,322.67 447.00,322.53 447.50,322.43 448.00,322.40 448.50,322.43 449.00,322.53 449.50,322.67 450.00,322.83 450.50,323.00 451.00,323.14 451.50,323.26 452.00,323.35 452.50,323.41 453.00,323.45 453.50,323.47 454.00,323.48 454.50,323.48 455.00,323.47 455.50,323.45 456.00,323.42 456.50,323.37 457.00,323.31 457.50,323.23 458.00,323.14 458.50,323.05 459.00,322.97 459.50,322.92 460.00,322.90 460.50,322.92 461.00,322.97 461.50,323.05 462.00,323.14 462.50,323.23 463.00,323.31 463.50,323.37 464.00,323.42 464.50,323.45 465.00,323.47 465.50,323.49 466.00,323.49 466.50,323.50 467.00,323.50 467.50,323.49 468.00,323.48 468.50,323.46 469.00,323.42 469.50,323.34 470.00,323.19 470.50,322.96 471.00,322.63 471.50,322.18 472.00,321.67 472.50,321.14 473.00,320.68 473.50,320.38 474.00,320.30 474.50,320.47 475.00,320.85 475.50,321.34 476.00,321.88 476.50,322.37 477.00,322.77 477.50,323.07 478.00,323.26 478.50,323.38 479.00,323.44 479.50,323.47 480.00,323.49 480.50,323.50 481.00,323.50 481.50,323.50 483.50,323.50 485.50,323.50 487.50,323.50 489.50,323.50 491.50,323.50 493.50,323.50 495.50,323.50 497.50,323.50 499.50,323.50 501.50,323.54 503.50,323.59 505.50,323.65 507.50,323.70 509.50,323.75 511.50,323.81 513.50,323.86 515.50,323.91 517.50,323.97 519.50,324.02 521.50,324.07 523.50,324.13 525.50,324.18 527.50,324.23 529.50,324.29 531.50,324.34 533.50,324.39 535.50,324.45 537.50,324.50 539.50,324.55 541.50,324.61 543.50,324.66" fill="none" stroke="#606060" stroke-width="1.15" stroke-linejoin="round"/>
<text x="9.0" y="308.0" font-size="7.3" text-anchor="start" font-weight="normal" fill="#2a2a2a" stroke="#2a2a2a" stroke-width="0.22">x10</text>
<text x="25.0" y="306.0" font-size="6.9" text-anchor="start" font-weight="normal" fill="#2a2a2a" stroke="#2a2a2a" stroke-width="0.22">4</text>
<text x="35.3" y="310.4" font-size="7.3" text-anchor="end" font-weight="normal" fill="#2a2a2a" stroke="#2a2a2a" stroke-width="0.22">5</text>
<text x="35.3" y="327.2" font-size="7.3" text-anchor="end" font-weight="normal" fill="#2a2a2a" stroke="#2a2a2a" stroke-width="0.22">0</text>
<text x="350.0" y="305.0" font-size="7.3" text-anchor="start" font-weight="normal" fill="#2a2a2a" stroke="#2a2a2a" stroke-width="0.22">Cholesterol in</text>
<text x="350.0" y="313.6" font-size="7.3" text-anchor="start" font-weight="normal" fill="#2a2a2a" stroke="#2a2a2a" stroke-width="0.22">human plasma</text>
<line x1="36.0" y1="148.5" x2="545.5" y2="148.5" stroke="#333" stroke-width="1.2"/>
<line x1="36.0" y1="177.9" x2="545.5" y2="177.9" stroke="#333" stroke-width="1.8"/>
<line x1="36.0" y1="207.5" x2="545.5" y2="207.5" stroke="#333" stroke-width="1.4"/>
<line x1="36.0" y1="237.6" x2="545.5" y2="237.6" stroke="#333" stroke-width="1.5"/>
<line x1="36.0" y1="267.5" x2="545.5" y2="267.5" stroke="#333" stroke-width="1.4"/>
<line x1="36.0" y1="296.8" x2="545.5" y2="296.8" stroke="#333" stroke-width="1.7"/>
<line x1="36.0" y1="326.4" x2="545.5" y2="326.4" stroke="#333" stroke-width="1.5"/>
<line x1="36.5" y1="149.1" x2="36.5" y2="176.9" stroke="#3a3a3a" stroke-width="1.1"/>
<line x1="545.0" y1="149.1" x2="545.0" y2="176.9" stroke="#606060" stroke-width="1.4"/>
<line x1="36.5" y1="178.1" x2="36.5" y2="206.9" stroke="#3a3a3a" stroke-width="1.1"/>
<line x1="545.0" y1="178.1" x2="545.0" y2="206.9" stroke="#606060" stroke-width="1.4"/>
<line x1="36.5" y1="208.1" x2="36.5" y2="236.9" stroke="#9a9a9a" stroke-width="1.1"/>
<line x1="545.0" y1="208.1" x2="545.0" y2="236.9" stroke="#9a9a9a" stroke-width="1.4"/>
<line x1="36.5" y1="238.1" x2="36.5" y2="266.9" stroke="#3a3a3a" stroke-width="1.1"/>
<line x1="545.0" y1="238.1" x2="545.0" y2="266.9" stroke="#707070" stroke-width="1.4"/>
<line x1="36.5" y1="268.1" x2="36.5" y2="295.9" stroke="#3a3a3a" stroke-width="1.1"/>
<line x1="545.0" y1="268.1" x2="545.0" y2="295.9" stroke="#707070" stroke-width="1.4"/>
<line x1="36.5" y1="297.1" x2="36.5" y2="325.9" stroke="#3a3a3a" stroke-width="1.1"/>
<line x1="545.0" y1="297.1" x2="545.0" y2="325.9" stroke="#707070" stroke-width="1.4"/>
<line x1="50.5" y1="326.5" x2="50.5" y2="328" stroke="#333" stroke-width="1"/>
<line x1="68.5" y1="326.5" x2="68.5" y2="328" stroke="#333" stroke-width="1"/>
<line x1="86.5" y1="326.5" x2="86.5" y2="328" stroke="#333" stroke-width="1"/>
<line x1="104.5" y1="326.5" x2="104.5" y2="328" stroke="#333" stroke-width="1"/>
<line x1="122.5" y1="326.5" x2="122.5" y2="328" stroke="#333" stroke-width="1"/>
<line x1="140.5" y1="326.5" x2="140.5" y2="328" stroke="#333" stroke-width="1"/>
<line x1="158.5" y1="326.5" x2="158.5" y2="328" stroke="#333" stroke-width="1"/>
<line x1="176.5" y1="326.5" x2="176.5" y2="328" stroke="#333" stroke-width="1"/>
<line x1="194.5" y1="326.5" x2="194.5" y2="328" stroke="#333" stroke-width="1"/>
<line x1="212.5" y1="326.5" x2="212.5" y2="328" stroke="#333" stroke-width="1"/>
<line x1="230.5" y1="326.5" x2="230.5" y2="328" stroke="#333" stroke-width="1"/>
<line x1="248.5" y1="326.5" x2="248.5" y2="328" stroke="#333" stroke-width="1"/>
<line x1="266.5" y1="326.5" x2="266.5" y2="328" stroke="#333" stroke-width="1"/>
<line x1="284.5" y1="326.5" x2="284.5" y2="328" stroke="#333" stroke-width="1"/>
<line x1="302.5" y1="326.5" x2="302.5" y2="328" stroke="#333" stroke-width="1"/>
<line x1="320.5" y1="326.5" x2="320.5" y2="328" stroke="#333" stroke-width="1"/>
<line x1="338.5" y1="326.5" x2="338.5" y2="328" stroke="#333" stroke-width="1"/>
<line x1="356.5" y1="326.5" x2="356.5" y2="328" stroke="#333" stroke-width="1"/>
<line x1="374.5" y1="326.5" x2="374.5" y2="328" stroke="#333" stroke-width="1"/>
<line x1="392.5" y1="326.5" x2="392.5" y2="328" stroke="#333" stroke-width="1"/>
<line x1="410.5" y1="326.5" x2="410.5" y2="328" stroke="#333" stroke-width="1"/>
<line x1="428.5" y1="326.5" x2="428.5" y2="328" stroke="#333" stroke-width="1"/>
<line x1="446.5" y1="326.5" x2="446.5" y2="328" stroke="#333" stroke-width="1"/>
<line x1="464.5" y1="326.5" x2="464.5" y2="328" stroke="#333" stroke-width="1"/>
<line x1="482.5" y1="326.5" x2="482.5" y2="328" stroke="#333" stroke-width="1"/>
<line x1="500.5" y1="326.5" x2="500.5" y2="328" stroke="#333" stroke-width="1"/>
<line x1="518.5" y1="326.5" x2="518.5" y2="328" stroke="#333" stroke-width="1"/>
<line x1="536.5" y1="326.5" x2="536.5" y2="328" stroke="#333" stroke-width="1"/>
<text x="51.1" y="335.2" font-size="7.3" text-anchor="middle" font-weight="normal" fill="#2a2a2a" stroke="#2a2a2a" stroke-width="0.22">2</text>
<text x="87.1" y="335.2" font-size="7.3" text-anchor="middle" font-weight="normal" fill="#2a2a2a" stroke="#2a2a2a" stroke-width="0.22">3</text>
<text x="123.2" y="335.2" font-size="7.3" text-anchor="middle" font-weight="normal" fill="#2a2a2a" stroke="#2a2a2a" stroke-width="0.22">4</text>
<text x="159.2" y="335.2" font-size="7.3" text-anchor="middle" font-weight="normal" fill="#2a2a2a" stroke="#2a2a2a" stroke-width="0.22">5</text>
<text x="195.3" y="335.2" font-size="7.3" text-anchor="middle" font-weight="normal" fill="#2a2a2a" stroke="#2a2a2a" stroke-width="0.22">6</text>
<text x="231.3" y="335.2" font-size="7.3" text-anchor="middle" font-weight="normal" fill="#2a2a2a" stroke="#2a2a2a" stroke-width="0.22">7</text>
<text x="267.3" y="335.2" font-size="7.3" text-anchor="middle" font-weight="normal" fill="#2a2a2a" stroke="#2a2a2a" stroke-width="0.22">8</text>
<text x="303.4" y="335.2" font-size="7.3" text-anchor="middle" font-weight="normal" fill="#2a2a2a" stroke="#2a2a2a" stroke-width="0.22">9</text>
<text x="339.4" y="335.2" font-size="7.3" text-anchor="middle" font-weight="normal" fill="#2a2a2a" stroke="#2a2a2a" stroke-width="0.22">10</text>
<text x="375.5" y="335.2" font-size="7.3" text-anchor="middle" font-weight="normal" fill="#2a2a2a" stroke="#2a2a2a" stroke-width="0.22">11</text>
<text x="411.5" y="335.2" font-size="7.3" text-anchor="middle" font-weight="normal" fill="#2a2a2a" stroke="#2a2a2a" stroke-width="0.22">12</text>
<text x="447.5" y="335.2" font-size="7.3" text-anchor="middle" font-weight="normal" fill="#2a2a2a" stroke="#2a2a2a" stroke-width="0.22">13</text>
<text x="483.6" y="335.2" font-size="7.3" text-anchor="middle" font-weight="normal" fill="#2a2a2a" stroke="#2a2a2a" stroke-width="0.22">14</text>
<text x="519.6" y="335.2" font-size="7.3" text-anchor="middle" font-weight="normal" fill="#2a2a2a" stroke="#2a2a2a" stroke-width="0.22">15</text>
<text x="271.8" y="346.8" font-size="7.34" text-anchor="middle" font-weight="bold" fill="#111" stroke="#111" stroke-width="0.35">Counts vs. Retention Time (min)</text>
</svg>
</body></html>
